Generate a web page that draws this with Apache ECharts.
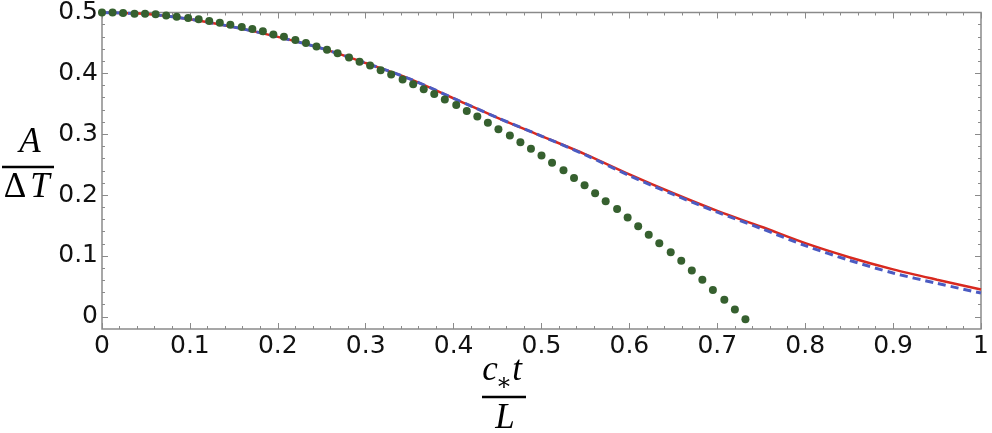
<!DOCTYPE html>
<html>
<head>
<meta charset="utf-8">
<script src="https://cdn.jsdelivr.net/npm/echarts@6/dist/echarts.min.js"></script>
<style>
  html, body { margin: 0; padding: 0; background: #fff; }
  #chart { width: 992px; height: 433px; }
</style>
</head>
<body>
<div id="chart"></div>
<script>
// red solid curve, sampled every 0.05
const redX = [0, 0.05, 0.1, 0.15, 0.2, 0.25, 0.3, 0.35, 0.4, 0.45, 0.5, 0.55, 0.6, 0.65, 0.7, 0.75, 0.8, 0.85, 0.9, 0.95, 1];
const redY = [0.5, 0.4975, 0.489, 0.476, 0.46, 0.441, 0.417, 0.391, 0.359, 0.327, 0.297, 0.267, 0.234, 0.203, 0.174, 0.148, 0.121, 0.098, 0.078, 0.061, 0.045];

// blue dashed curve, same grid
const blueX = [0, 0.05, 0.1, 0.15, 0.2, 0.25, 0.3, 0.35, 0.4, 0.45, 0.5, 0.55, 0.6, 0.65, 0.7, 0.75, 0.8, 0.85, 0.9, 0.95, 1];
const blueY = [0.5, 0.4975, 0.489, 0.476, 0.46, 0.441, 0.417, 0.391, 0.359, 0.327, 0.297, 0.266, 0.232, 0.201, 0.172, 0.145, 0.117, 0.093, 0.072, 0.055, 0.039];

// green dots
const dotX = [0, 0.012, 0.024, 0.037, 0.049, 0.061, 0.073, 0.085, 0.098, 0.110,
  0.122, 0.134, 0.146, 0.159, 0.171, 0.183, 0.195, 0.207, 0.220, 0.232,
  0.244, 0.256, 0.268, 0.281, 0.293, 0.305, 0.317, 0.329, 0.342, 0.354,
  0.366, 0.378, 0.390, 0.403, 0.415, 0.427, 0.439, 0.451, 0.464, 0.476,
  0.488, 0.500, 0.512, 0.525, 0.537, 0.549, 0.561, 0.573, 0.586, 0.598,
  0.610, 0.622, 0.634, 0.647, 0.659, 0.671, 0.683, 0.695, 0.708, 0.720, 0.732];
const dotY = [0.5, 0.5, 0.499, 0.498, 0.498, 0.497, 0.495, 0.493, 0.491, 0.489,
  0.486, 0.483, 0.48, 0.476, 0.473, 0.469, 0.464, 0.46, 0.455, 0.45,
  0.444, 0.439, 0.433, 0.426, 0.419, 0.413, 0.405, 0.398, 0.39, 0.382,
  0.374, 0.366, 0.357, 0.348, 0.338, 0.329, 0.319, 0.308, 0.298, 0.287,
  0.276, 0.265, 0.253, 0.241, 0.228, 0.216, 0.203, 0.19, 0.177, 0.163,
  0.149, 0.135, 0.121, 0.106, 0.092, 0.076, 0.061, 0.044, 0.028, 0.012, -0.004];

// tick positions
const xMajor = [0, 0.1, 0.2, 0.3, 0.4, 0.5, 0.6, 0.7, 0.8, 0.9, 1];
const xMinor = [0.02, 0.04, 0.06, 0.08, 0.12, 0.14, 0.16, 0.18, 0.22, 0.24, 0.26, 0.28,
  0.32, 0.34, 0.36, 0.38, 0.42, 0.44, 0.46, 0.48, 0.52, 0.54, 0.56, 0.58,
  0.62, 0.64, 0.66, 0.68, 0.72, 0.74, 0.76, 0.78, 0.82, 0.84, 0.86, 0.88,
  0.92, 0.94, 0.96, 0.98];
const yMajor = [0, 0.1, 0.2, 0.3, 0.4, 0.5];
const yMinor = [0.02, 0.04, 0.06, 0.08, 0.12, 0.14, 0.16, 0.18, 0.22, 0.24, 0.26, 0.28,
  0.32, 0.34, 0.36, 0.38, 0.42, 0.44, 0.46, 0.48];

const FRAME = "#8a8a8a";
const LABEL_FONT = "'DejaVu Sans', sans-serif";
const MATH_FONT = "'Liberation Serif', 'DejaVu Serif', serif";

const zip = (xs, ys) => xs.map((x, i) => [x, ys[i]]);
const fmt = v => String(+v.toFixed(2));

// one axis per tick set, so major and minor ticks can have different lengths
const tickAxis = (pos, min, max, ticks, len, labels) => ({
  type: "value",
  position: pos,
  min: min,
  max: max,
  axisLine: { show: false, onZero: false },
  splitLine: { show: false },
  axisTick: {
    show: true,
    inside: true,
    length: len,
    customValues: ticks,
    lineStyle: { color: FRAME, width: 1 },
  },
  axisLabel: labels
    ? {
        show: true,
        customValues: ticks,
        formatter: fmt,
        fontFamily: LABEL_FONT,
        fontSize: 25,
        color: "#111",
        margin: pos === "bottom" ? 5 : 4,
      }
    : { show: false },
});

const chart = echarts.init(document.getElementById("chart"));

chart.setOption({
  animation: false,
  backgroundColor: "#fff",
  grid: {
    left: 102,
    right: 11,
    top: 11,
    bottom: 104,
    show: true,
    borderColor: FRAME,
    borderWidth: 1.5,
    backgroundColor: "transparent",
  },
  xAxis: [
    tickAxis("bottom", 0, 1, xMajor, 6, true),
    tickAxis("bottom", 0, 1, xMinor, 3, false),
    tickAxis("top", 0, 1, xMajor, 6, false),
    tickAxis("top", 0, 1, xMinor, 3, false),
  ],
  yAxis: [
    tickAxis("left", -0.02, 0.5, yMajor, 6, true),
    tickAxis("left", -0.02, 0.5, yMinor, 3, false),
    tickAxis("right", -0.02, 0.5, yMajor, 6, false),
    tickAxis("right", -0.02, 0.5, yMinor, 3, false),
  ],
  series: [
    {
      type: "line",
      data: zip(redX, redY),
      smooth: 0.3,
      symbol: "none",
      lineStyle: { color: "#d8291f", width: 2.5 },
      z: 2,
    },
    {
      type: "line",
      data: zip(blueX, blueY),
      smooth: 0.3,
      symbol: "none",
      lineStyle: { color: "#4b5bc2", width: 3, type: [8, 5] },
      z: 3,
    },
    {
      type: "scatter",
      data: zip(dotX, dotY),
      symbol: "circle",
      symbolSize: 8,
      itemStyle: { color: "#36602f", opacity: 1 },
      z: 4,
    },
  ],
  graphic: [
    // y axis title: A / ΔT
    { type: "text", x: 30, y: 143, style: { text: "A", font: "italic 35px " + MATH_FONT, fill: "#000", align: "center", verticalAlign: "middle" } },
    { type: "line", shape: { x1: 2, y1: 167, x2: 54, y2: 167 }, style: { stroke: "#000", lineWidth: 2.5 } },
    { type: "text", x: 15, y: 188, style: { text: "Δ", font: "35px " + MATH_FONT, fill: "#000", align: "center", verticalAlign: "middle" } },
    { type: "text", x: 40, y: 188, style: { text: "T", font: "italic 35px " + MATH_FONT, fill: "#000", align: "center", verticalAlign: "middle" } },
    // x axis title: c* t / L
    { type: "text", x: 490, y: 371, style: { text: "c", font: "italic 35px " + MATH_FONT, fill: "#000", align: "center", verticalAlign: "middle" } },
    { type: "text", x: 504, y: 384, style: { text: "∗", font: "24px " + MATH_FONT, fill: "#000", align: "center", verticalAlign: "middle" } },
    { type: "text", x: 517, y: 371, style: { text: "t", font: "italic 35px " + MATH_FONT, fill: "#000", align: "center", verticalAlign: "middle" } },
    { type: "line", shape: { x1: 482, y1: 397, x2: 526, y2: 397 }, style: { stroke: "#000", lineWidth: 2.5 } },
    { type: "text", x: 505, y: 419, style: { text: "L", font: "italic 35px " + MATH_FONT, fill: "#000", align: "center", verticalAlign: "middle" } },
  ],
});
</script>
</body>
</html>
